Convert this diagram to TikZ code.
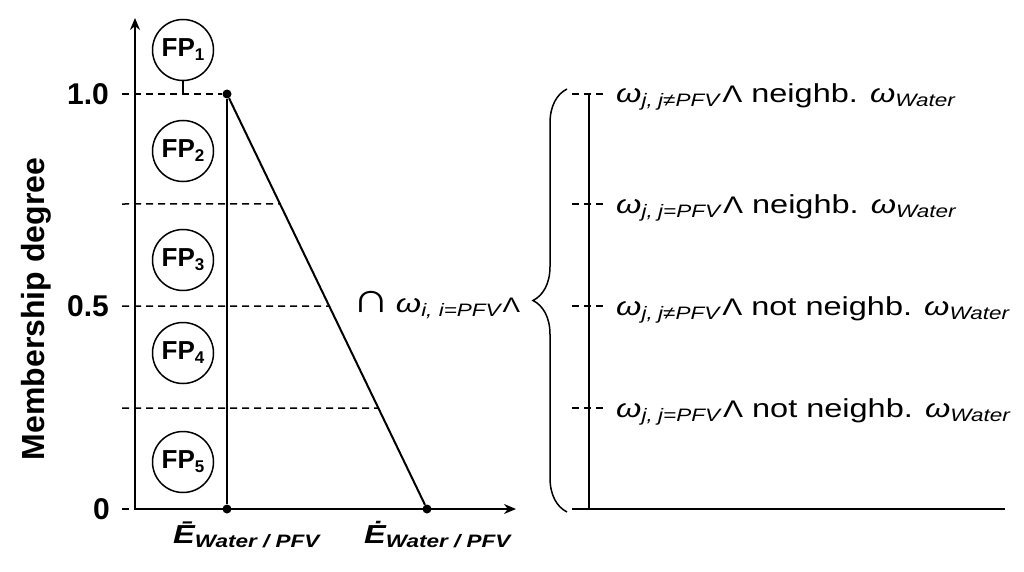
\documentclass[tikz,border=0pt]{standalone}
\usepackage{fontspec}
\setmainfont{Liberation Sans}
\newfontfamily\widefont{Liberation Sans}[FakeStretch=1.25]
\usetikzlibrary{arrows.meta, calc, decorations.pathreplacing}
\newcommand{\lowsub}[2][18]{\raisebox{-4pt}{\fontsize{#1}{#1}\selectfont #2}}
\newcommand{\wedgesym}[1][24]{{\fontsize{#1}{30}\selectfont\upshape Λ}}
\tikzstyle{fpnode} = [circle, draw, line width=1.5pt, minimum size=61pt,
    inner sep=0pt, font=\fontsize{26}{30}\selectfont\bfseries]
\tikzstyle{tick} = [anchor=east, inner sep=0pt,
    font=\fontsize{30}{32}\selectfont\bfseries]
\tikzstyle{guide} = [draw, line width=1.5pt, dash pattern=on 7pt off 5pt]
\tikzstyle{axis} = [draw, line width=2pt, -{Stealth[length=12pt,width=10pt]}]
\tikzstyle{line} = [draw, line width=2pt]
\tikzstyle{dot} = [circle, fill, inner sep=0pt, minimum size=9pt]
\tikzstyle{rule} = [anchor=base west, inner sep=0pt,
    font=\widefont\fontsize{26}{30}\selectfont]
\tikzstyle{xlabel} = [anchor=base west, inner sep=0pt,
    font=\widefont\fontsize{26}{30}\selectfont\bfseries\itshape]

\begin{document}
\begin{tikzpicture}[x=1pt, y=-1pt]
    \useasboundingbox (0,0) rectangle (1024,572);
    % Axes
    \coordinate (origin) at (135,509);
    \path [axis] (origin) -- (135,18);
    \path [axis] (origin) -- (516,509);
    \node [rotate=90, inner sep=0pt, font=\fontsize{32}{34}\selectfont\bfseries]
        (ylab) at (36,309) {Membership degree};
    \node [tick] (t10) at (109,94) {1.0};
    \node [tick] (t05) at (109,306) {0.5};
    \node [tick] (t00) at (110,509) {0};
    % Membership function
    \node [dot] (peak) at (227,94) {};
    \node [dot] (low) at (227,509) {};
    \node [dot] (high) at (427,509) {};
    \path [line] (peak) -- (low);
    \path [line] (peak) -- (high);
    \node [xlabel] (ebar) at ($(low)+(-54,34)$)
        {Ē\lowsub[18]{Water / PFV}};
    \node [xlabel] (edot) at ($(high)+(-63,34)$)
        {Ė\lowsub[18]{Water / PFV}};
    % Levels
    \coordinate (g1) at (122,94);
    \coordinate (g2) at (122,204);
    \coordinate (g3) at (122,306);
    \coordinate (g4) at (122,408);
    \coordinate (g5) at (122,509);
    \path [guide] (g1) -- (peak);
    \path [guide] (g2) -- ($(peak)!0.265!(high)$);
    \path [guide] (g3) -- ($(peak)!0.511!(high)$);
    \path [guide] (g4) -- ($(peak)!0.757!(high)$);
    \path [guide] (g5) -- (origin);
    % Fuzzy partitions
    \node [fpnode] (fp1) at (183,50) {FP\lowsub[17]{1}};
    \node [fpnode] (fp2) at (183,151) {FP\lowsub[17]{2}};
    \node [fpnode] (fp3) at (183,260) {FP\lowsub[17]{3}};
    \node [fpnode] (fp4) at (183,353) {FP\lowsub[17]{4}};
    \node [fpnode] (fp5) at (183,462) {FP\lowsub[17]{5}};
    \path [line, line width=1.5pt] (fp1.south) -- (fp1 |- peak);
    % Combination
    \node [rule] (inter) at (352,312)
        {{\fontsize{42}{30}\selectfont ∩}\hspace{6pt}{\itshape ω\lowsub{i,\hspace{0.35em}i=PFV}}\hspace{2pt}\wedgesym[21]};
    \draw [decorate, decoration={brace, amplitude=34pt}, line width=1.5pt]
        (567,512) -- (567,89);
    % Right scale
    \coordinate (rtop) at (589,94);
    \coordinate (rbot) at (589,509);
    \coordinate (rleft) at (572,509);
    \coordinate (rright) at (1005,509);
    \path [line] (rtop) -- (rbot);
    \path [line] (rleft) -- (rright);
    \foreach \y/\n in {94/r1, 204/r2, 306/r3, 408/r4} {
        \coordinate (\n a) at (572,\y);
        \coordinate (\n b) at (606,\y);
        \path [guide] (\n a) -- (\n b);
    }
    \node [rule] (rule1) at (616,103)
        {{\itshape ω\lowsub{j,\hspace{0.3em}j≠PFV}}\hspace{3pt}\wedgesym{} neighb. {\itshape ω\lowsub{Water}}};
    \node [rule] (rule2) at (616,213)
        {{\itshape ω\lowsub{j,\hspace{0.3em}j=PFV}}\hspace{3pt}\wedgesym{} neighb. {\itshape ω\lowsub{Water}}};
    \node [rule] (rule3) at (616,315)
        {{\itshape ω\lowsub{j,\hspace{0.3em}j≠PFV}}\hspace{3pt}\wedgesym{} not neighb. {\itshape ω\lowsub{Water}}};
    \node [rule] (rule4) at (616,417)
        {{\itshape ω\lowsub{j,\hspace{0.3em}j=PFV}}\hspace{3pt}\wedgesym{} not neighb. {\itshape ω\lowsub{Water}}};
\end{tikzpicture}
\end{document}
